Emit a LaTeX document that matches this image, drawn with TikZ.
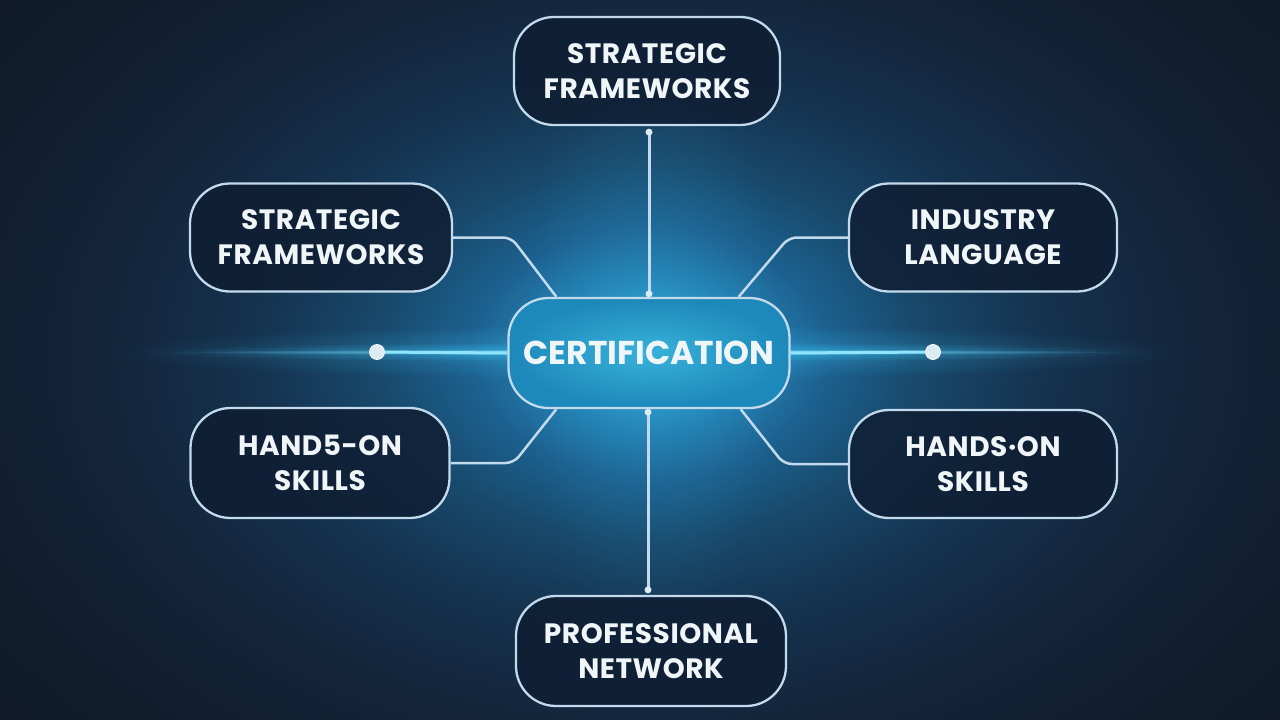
\documentclass[tikz,border=0pt]{standalone}
\usepackage{fontspec}
\setmainfont{Poppins}
\usetikzlibrary{calc,fadings}
\definecolor{bgdark}{HTML}{0F1824}
\definecolor{g0}{HTML}{38B4DE}
\definecolor{g1}{HTML}{2C98CA}
\definecolor{g2}{HTML}{227CAE}
\definecolor{g3}{HTML}{1C608E}
\definecolor{g4}{HTML}{18496C}
\definecolor{g5}{HTML}{15324E}
\definecolor{g6}{HTML}{13253B}
\definecolor{g7}{HTML}{111D2D}
\definecolor{edge}{HTML}{C2DAEC}
\definecolor{boxfill}{HTML}{0F1E33}
\definecolor{txt}{HTML}{F0F5F8}
\definecolor{cyanline}{HTML}{8FE4FF}
\definecolor{glowc}{HTML}{3CC0F0}
\definecolor{cin}{HTML}{38B2DA}
\definecolor{cout}{HTML}{1D88BA}
\definecolor{dotc}{HTML}{DCEAF2}
\pgfdeclareradialshading{glow}{\pgfpoint{0bp}{0bp}}{color(0bp)=(g0); color(1.6bp)=(g1); color(3.2bp)=(g2); color(5bp)=(g3); color(7.5bp)=(g4); color(11bp)=(g5); color(15bp)=(g6); color(20bp)=(g7); color(25bp)=(bgdark); color(50bp)=(bgdark)}
\tikzfading[name=radfade, inner color=transparent!0, outer color=transparent!100]
\tikzset{
  box/.style={draw=edge, line width=2.3pt, rounded corners=40pt, minimum height=108pt,
    fill=boxfill, fill opacity=0.85, text opacity=1, text=txt, align=center,
    font=\fontsize{28}{35}\selectfont\bfseries\addfontfeatures{LetterSpace=2}, inner sep=0pt},
  conn/.style={draw=edge, line width=2.5pt, rounded corners=8pt},
  vconn/.style={draw=edge, line width=3pt},
  hline/.style={draw=cyanline, line width=3pt},
  bigdot/.style={circle, fill=dotc, draw=white, line width=0.8pt, minimum size=15pt, inner sep=0pt},
  smalldot/.style={circle, fill=dotc, minimum size=7pt, inner sep=0pt}
}
\begin{document}
\begin{tikzpicture}[x=1pt,y=-1pt]
\useasboundingbox (0,0) rectangle (1280,720);
\clip (0,0) rectangle (1280,720);
% background
\fill[bgdark] (0,0) rectangle (1280,720);
\shade[shading=glow] (649,353) ellipse [x radius=900, y radius=620];
% vertical soft glow along the axis
\fill[glowc, path fading=radfade, opacity=0.18] (649,330) ellipse [x radius=130, y radius=320];
% horizontal streak glow
\fill[glowc, path fading=radfade, opacity=0.35] (649,352) ellipse [x radius=540, y radius=28];
\fill[glowc, path fading=radfade, opacity=0.6] (649,352) ellipse [x radius=500, y radius=10];
\fill[cyanline, path fading=radfade, opacity=0.9] (649,352) ellipse [x radius=480, y radius=3];

% nodes
\node[box, minimum width=266pt] (top) at (647,71) {STRATEGIC\\FRAMEWORKS};
\node[box, minimum width=262pt] (lt) at (321,237.5) {STRATEGIC\\FRAMEWORKS};
\node[box, minimum width=268pt] (rt) at (983,237.5) {INDUSTRY\\LANGUAGE};
\node[box, minimum width=259pt, minimum height=110pt] (lb) at (320,463) {HAND5-ON\\SKILLS};
\node[box, minimum width=268pt] (rb) at (983,464) {HANDS·ON\\SKILLS};
\node[box, minimum width=270pt, minimum height=110pt] (bot) at (651,651) {PROFESSIONAL\\NETWORK};
\node[box, minimum width=281pt, minimum height=110pt, fill opacity=1, inner color=cin, outer color=cout,
  font=\fontsize{33}{35}\selectfont\bfseries] (c) at (649,353) {CERTIFICATION};

% connectors
\draw[conn] (lt.east) -- ++(58,0) -- ($(c.north west)+(49,0)$);
\draw[conn] (rt.west) -- ++(-59,0) -- ($(c.north east)+(-52,0)$);
\draw[conn] (lb.east) -- ++(63,0) -- ($(c.south west)+(49,0)$);
\draw[conn] (rb.west) -- ++(-64,0) -- ($(c.south east)+(-50,0)$);

\coordinate (t1) at ($(top.south)+(2,6)$);
\coordinate (t2) at ($(c.north)+(0,-3)$);
\coordinate (b1) at ($(c.south)+(-1,3)$);
\coordinate (b2) at ($(bot.north)+(-3,-5)$);
\draw[vconn] (t1) -- (t2);
\draw[vconn] (b1) -- (b2);
\node[smalldot] (t1d) at (t1) {};
\node[smalldot] (t2d) at (t2) {};
\node[smalldot] (b1d) at (b1) {};
\node[smalldot] (b2d) at (b2) {};

\node[bigdot] (ld) at (377,352) {};
\node[bigdot] (rd) at (933,352) {};
\draw[hline] (ld) -- (c.west);
\draw[hline] (rd) -- (c.east);
\end{tikzpicture}
\end{document}
